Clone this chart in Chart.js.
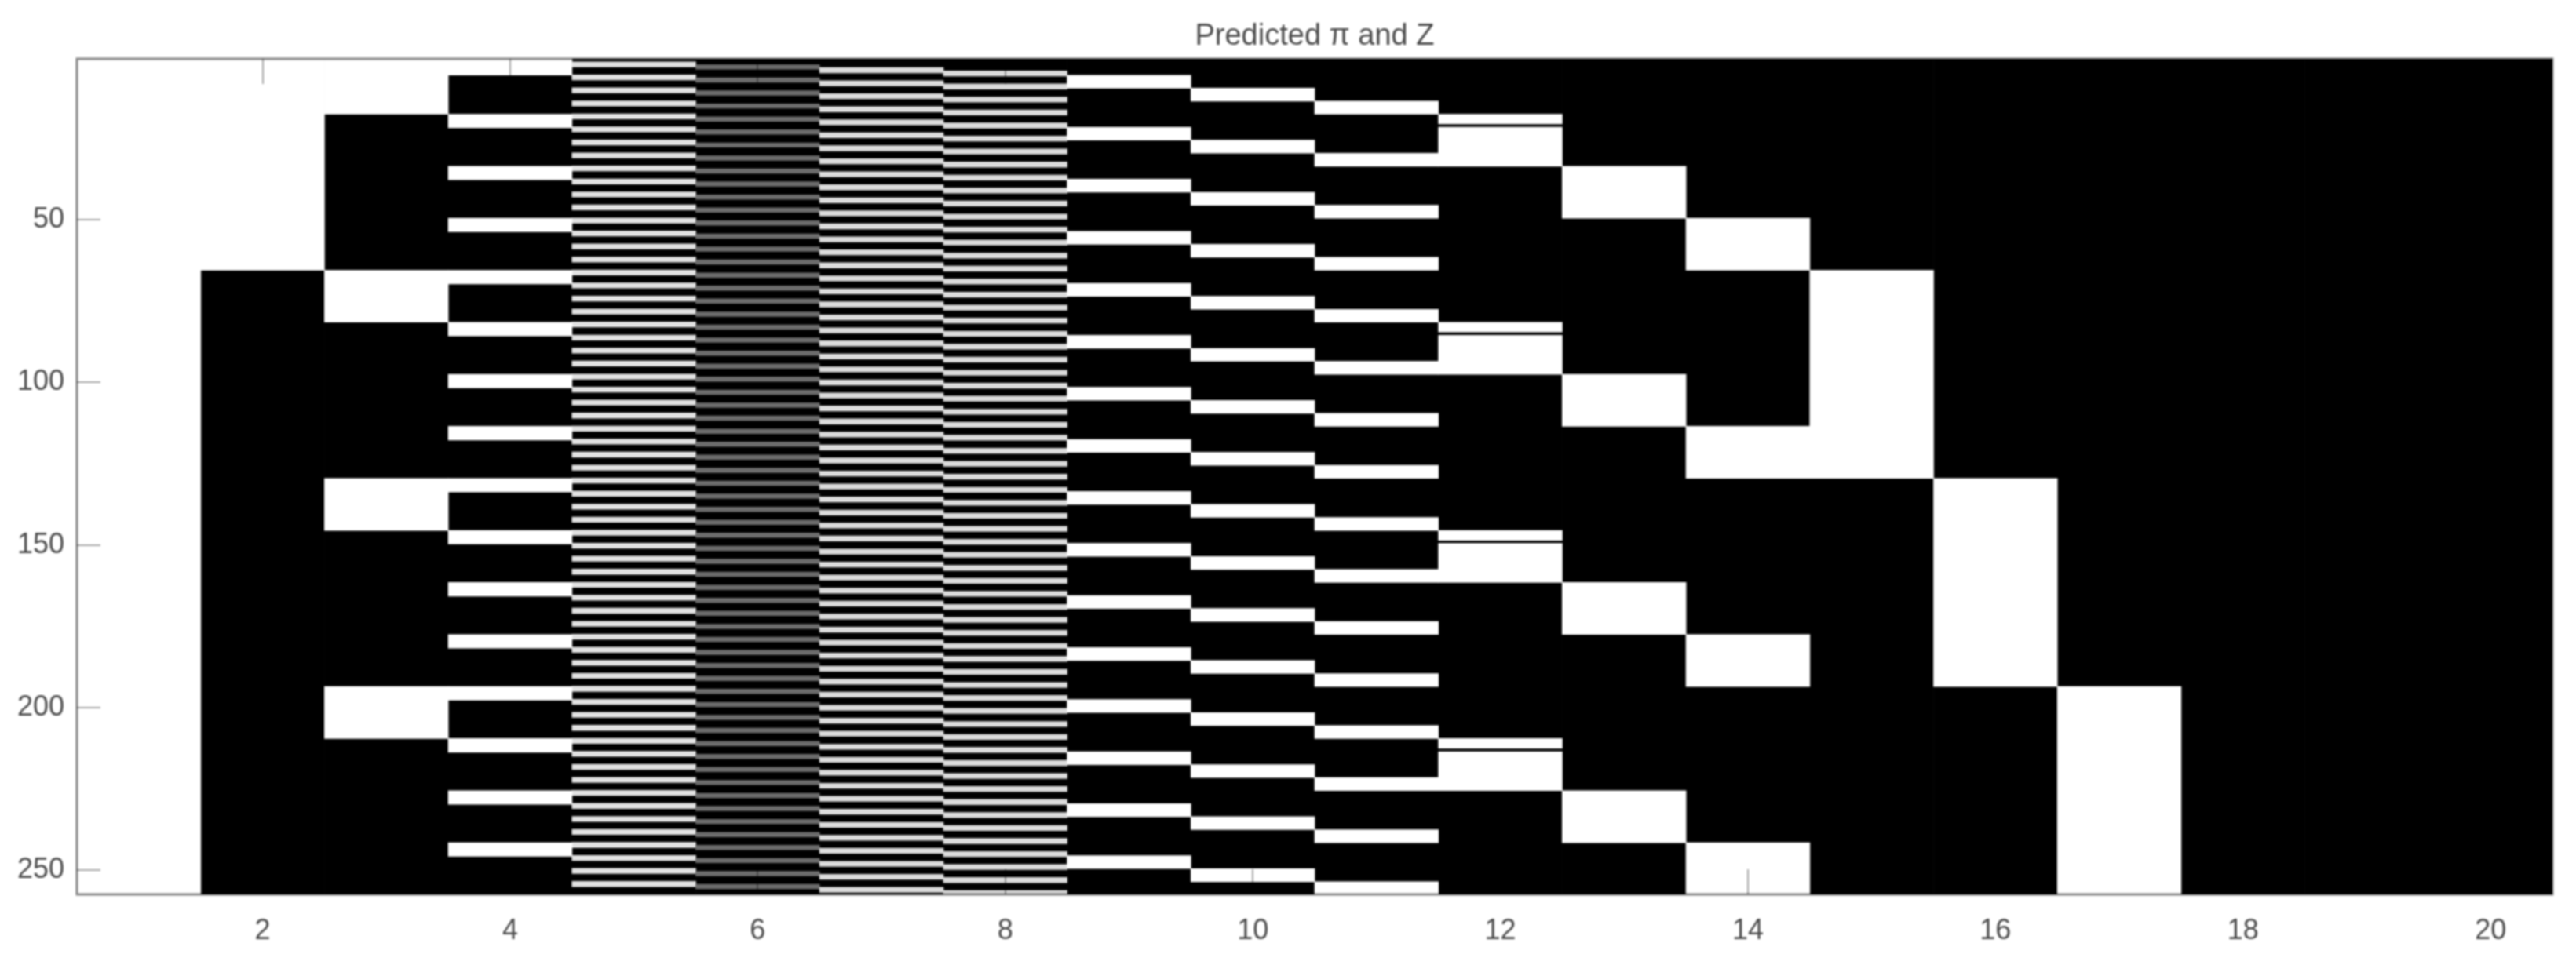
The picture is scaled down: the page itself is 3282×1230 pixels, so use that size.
<!DOCTYPE html>
<html>
<head>
<meta charset="utf-8">
<title>Predicted pi and Z</title>
<script src="https://cdn.jsdelivr.net/npm/chart.js@4"></script>
<style>
  html, body { margin: 0; background: #fff; }
  canvas { display: block; filter: blur(1px); }
</style>
</head>
<body>
<canvas id="chart" width="3282" height="1230"></canvas>
<script>
const titleText = 'Predicted π and Z';
const columns = ['1','2','3','4','5','6','7','8','9','10','11','12','13','14','15','16','17','18','19','20'];
const xTickLabels = ['2','4','6','8','10','12','14','16','18','20'];
const yTickValues = [50, 100, 150, 200, 250];
const firstRow = 0.5;
const lastRow = 257.4;

// white runs in each column, as [from row, to row]
const col1 = [[0.5, 257.4]];
const col2 = [[0.5, 65.5]];
const col3 = [[0.5, 17.5], [65.5, 81.5], [129.5, 145.5], [193.5, 209.5]];
const col12 = [[17.5, 20.5], [21.5, 33.5], [81.5, 84.5], [85.5, 97.5], [145.5, 148.5], [149.5, 161.5], [209.5, 212.5], [213.5, 225.5]];
const col13 = [[33.5, 49.5], [97.5, 113.5], [161.5, 177.5], [225.5, 241.5]];
const col14 = [[49.5, 65.5], [113.5, 129.5], [177.5, 193.5], [241.5, 257.4]];
const col15 = [[65.5, 129.5]];
const col16 = [[129.5, 193.5]];
const col17 = [[193.5, 257.4]];

// wide bands, 4 rows tall
const col4Top = [[0.5, 5.5]];
const col4Starts = [17.5, 33.5, 49.5, 65.5, 81.5, 97.5, 113.5, 129.5, 145.5, 161.5, 177.5, 193.5, 209.5, 225.5, 241.5];
const col9Starts = [5.5, 21.5, 37.5, 53.5, 69.5, 85.5, 101.5, 117.5, 133.5, 149.5, 165.5, 181.5, 197.5, 213.5, 229.5, 245.5];
const col10Starts = [9.5, 25.5, 41.5, 57.5, 73.5, 89.5, 105.5, 121.5, 137.5, 153.5, 169.5, 185.5, 201.5, 217.5, 233.5, 249.5];
const col11Starts = [13.5, 29.5, 45.5, 61.5, 77.5, 93.5, 109.5, 125.5, 141.5, 157.5, 173.5, 189.5, 205.5, 221.5, 237.5, 253.5];

// thin stripes
const col5Starts = [1.4,5.4,9.4,13.4,17.4,21.4,25.4,29.4,33.4,37.4,41.4,45.4,49.4,53.4,57.4,61.4,65.4,69.4,73.4,77.4,81.4,85.4,89.4,93.4,97.4,101.4,105.4,109.4,113.4,117.4,121.4,125.4,129.4,133.4,137.4,141.4,145.4,149.4,153.4,157.4,161.4,165.4,169.4,173.4,177.4,181.4,185.4,189.4,193.4,197.4,201.4,205.4,209.4,213.4,217.4,221.4,225.4,229.4,233.4,237.4,241.4,245.4,249.4,253.4];
const col6Starts = [2.3,6.3,10.3,14.3,18.3,22.3,26.3,30.3,34.3,38.3,42.3,46.3,50.3,54.3,58.3,62.3,66.3,70.3,74.3,78.3,82.3,86.3,90.3,94.3,98.3,102.3,106.3,110.3,114.3,118.3,122.3,126.3,130.3,134.3,138.3,142.3,146.3,150.3,154.3,158.3,162.3,166.3,170.3,174.3,178.3,182.3,186.3,190.3,194.3,198.3,202.3,206.3,210.3,214.3,218.3,222.3,226.3,230.3,234.3,238.3,242.3,246.3,250.3,254.3];
const col7Starts = [3.2,7.2,11.2,15.2,19.2,23.2,27.2,31.2,35.2,39.2,43.2,47.2,51.2,55.2,59.2,63.2,67.2,71.2,75.2,79.2,83.2,87.2,91.2,95.2,99.2,103.2,107.2,111.2,115.2,119.2,123.2,127.2,131.2,135.2,139.2,143.2,147.2,151.2,155.2,159.2,163.2,167.2,171.2,175.2,179.2,183.2,187.2,191.2,195.2,199.2,203.2,207.2,211.2,215.2,219.2,223.2,227.2,231.2,235.2,239.2,243.2,247.2,251.2,255.2];
const col8Starts = [4.2,8.2,12.2,16.2,20.2,24.2,28.2,32.2,36.2,40.2,44.2,48.2,52.2,56.2,60.2,64.2,68.2,72.2,76.2,80.2,84.2,88.2,92.2,96.2,100.2,104.2,108.2,112.2,116.2,120.2,124.2,128.2,132.2,136.2,140.2,144.2,148.2,152.2,156.2,160.2,164.2,168.2,172.2,176.2,180.2,184.2,188.2,192.2,196.2,200.2,204.2,208.2,212.2,216.2,220.2,224.2,228.2,232.2,236.2,240.2,244.2,248.2,252.2,256.2];

const BLACK = '#000000';
const LINE_GREY = '#858585';
const TEXT_GREY = '#4d4d4d';

function runs(starts, height) {
  return starts.map(s => [s, s + height]);
}

const whiteRuns = [
  col1, col2, col3,
  col4Top.concat(runs(col4Starts, 4.2)),
  runs(col5Starts, 1.6), runs(col6Starts, 1.4), runs(col7Starts, 1.6), runs(col8Starts, 1.6),
  runs(col9Starts, 4), runs(col10Starts, 4), runs(col11Starts, 4),
  col12, col13, col14, col15, col16, col17, [], [], []
];
const columnColors = ['#fff','#fff','#fff','#fff','#e2e2e2','#6c6c6c','#dcdcdc','#dcdcdc','#fff','#fff','#fff','#fff','#fff','#fff','#fff','#fff','#fff','#fff','#fff','#fff'];

const layers = Math.max(...whiteRuns.map(c => c.length));
// higher order is painted first, so the black sits underneath
const datasets = [{
  label: 'Z = 0',
  order: 1,
  data: columns.map(() => [firstRow, lastRow]),
  backgroundColor: BLACK
}];
for (let k = 0; k < layers; k++) {
  datasets.push({
    label: 'Z = 1, run ' + (k + 1),
    order: 0,
    data: whiteRuns.map(c => c[k] || null),
    backgroundColor: columnColors
  });
}

const axesBox = {
  id: 'axesBox',
  afterDatasetsDraw(chart) {
    const { ctx, chartArea, scales } = chart;
    ctx.save();
    // multiply keeps the lines grey on white and nearly gone on black
    ctx.globalCompositeOperation = 'multiply';
    ctx.strokeStyle = '#a8a8a8';
    ctx.lineWidth = 2;
    ctx.beginPath();
    xTickLabels.forEach(l => {
      const x = Math.round(scales.x.getPixelForValue(columns.indexOf(l)));
      ctx.moveTo(x, chartArea.top); ctx.lineTo(x, chartArea.top + 32);
      ctx.moveTo(x, chartArea.bottom); ctx.lineTo(x, chartArea.bottom - 32);
    });
    yTickValues.forEach(v => {
      const y = Math.round(scales.y.getPixelForValue(v));
      ctx.moveTo(chartArea.left, y); ctx.lineTo(chartArea.left + 30, y);
      ctx.moveTo(chartArea.right, y); ctx.lineTo(chartArea.right - 30, y);
    });
    ctx.stroke();
    ctx.strokeStyle = LINE_GREY;
    ctx.lineWidth = 3;
    ctx.strokeRect(chartArea.left, chartArea.top, chartArea.right - chartArea.left, chartArea.bottom - chartArea.top);
    ctx.restore();
  }
};

new Chart(document.getElementById('chart'), {
  type: 'bar',
  data: { labels: columns, datasets },
  plugins: [axesBox],
  options: {
    responsive: false,
    animation: false,
    events: [],
    layout: { padding: { right: 30 } },
    datasets: { bar: { grouped: false, categoryPercentage: 1, barPercentage: 1 } },
    plugins: {
      legend: { display: false },
      tooltip: { enabled: false },
      title: {
        display: true,
        text: titleText,
        fullSize: false,
        color: TEXT_GREY,
        font: { family: '"Liberation Sans", Arial, sans-serif', size: 38, weight: 'normal' },
        padding: { top: 24, bottom: 5.4 }
      }
    },
    scales: {
      x: {
        grid: { display: false },
        border: { display: false },
        afterFit: s => { s.height = 90; },
        ticks: {
          autoSkip: false,
          maxRotation: 0,
          padding: 17,
          color: TEXT_GREY,
          font: { family: '"Liberation Sans", Arial, sans-serif', size: 36 },
          callback(value) {
            const l = columns[value];
            return xTickLabels.includes(l) ? l : '';
          }
        }
      },
      y: {
        reverse: true,
        min: firstRow,
        max: lastRow,
        grid: { display: false },
        border: { display: false },
        afterFit: s => { s.width = 98; },
        afterBuildTicks: s => { s.ticks = yTickValues.map(value => ({ value })); },
        ticks: {
          padding: 8,
          color: TEXT_GREY,
          font: { family: '"Liberation Sans", Arial, sans-serif', size: 36 }
        }
      }
    }
  }
});
</script>
</body>
</html>
